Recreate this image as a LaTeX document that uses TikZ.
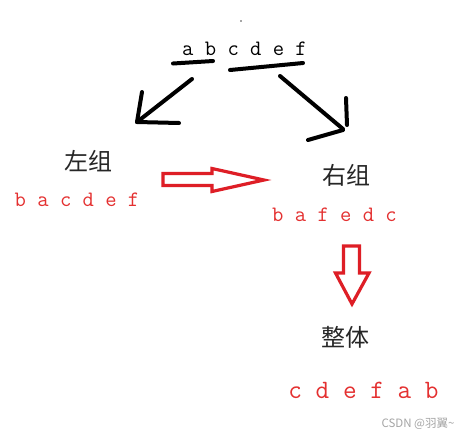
\documentclass[tikz,border=0pt]{standalone}
\usepackage{fontspec}
\newfontfamily\cjk{Noto Sans CJK SC}
\definecolor{redtxt}{RGB}{228,48,48}
\definecolor{redarr}{RGB}{222,30,38}
\definecolor{wm}{RGB}{165,165,165}
\begin{document}
\begin{tikzpicture}[x=1pt,y=-1pt,
  seq/.style={font=\ttfamily\fontsize{22}{22}\selectfont, inner sep=0pt, anchor=base},
  redseq/.style={seq, text=redtxt},
  label/.style={font=\cjk\fontsize{24}{24}\selectfont, inner sep=0pt, text=black!85},
  stroke/.style={line width=4pt, line cap=round, line join=round, black},
  hollow/.style={line width=3.2pt, redarr, line join=miter}]
\useasboundingbox (0,0) rectangle (474,440);
\fill[white] (0,0) rectangle (474,440);
% dot
\fill[black!70] (241,21) circle (0.9);
% top sequence
\node[seq] (top) at (244.5,55) {a b c d e f};
% underlines
\draw[stroke] (173,63.5) -- (213,61);
\draw[stroke] (230,70) -- (303,63);
% left arrow
\draw[stroke] (192,79) -- (137,122);
\draw[stroke] (142,92) -- (137,122) -- (179,123);
% right arrow
\draw[stroke] (280,76) -- (343,129);
\draw[stroke] (346,98) -- (347,125);
\draw[stroke] (308,140) -- (343,130);
% labels
\node[label] (lz) at (88,161) {左组};
\node[redseq] (ls) at (77,206) {b a c d e f};
\node[label] (rz) at (346,175) {右组};
\node[redseq] (rs) at (334.5,221.5) {b a f e d c};
\node[label] (wz) at (345,337) {整体};
\node[redseq, font=\ttfamily\fontsize{26.5}{26.5}\selectfont] (ws) at (363.5,398) {c d e f a b};
% hollow arrows
\draw[hollow] (163,173.5) -- (212,173.5) -- (212,168.5) -- (264,180) -- (212,191.5) -- (212,185.5) -- (163,185.5) -- cycle;
\draw[hollow] (343.5,246) -- (359.5,246) -- (359.5,273) -- (369,273) -- (352,304) -- (335.5,273) -- (343.5,273) -- cycle;
% watermark
\node[font=\cjk\fontsize{11.5}{11.5}\selectfont, text=wm, inner sep=0pt] (wmk) at (418,424) {CSDN @羽翼\textasciitilde};
\end{tikzpicture}
\end{document}
